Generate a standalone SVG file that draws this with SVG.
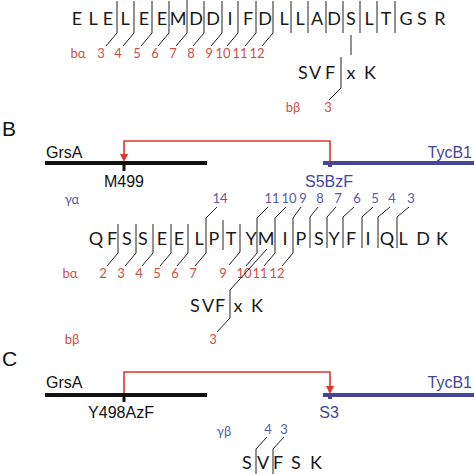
<svg xmlns="http://www.w3.org/2000/svg" width="474" height="474" viewBox="0 0 474 474">
<style>
.seq{font-family:Lato,"Open Sans","Liberation Sans",sans-serif;font-size:18px;fill:#1a1a1a;text-anchor:middle}
.rn{font-family:Lato,"Open Sans","Liberation Sans",sans-serif;font-size:13px;fill:#c9504a;text-anchor:middle}
.bn{font-family:Lato,"Open Sans","Liberation Sans",sans-serif;font-size:13px;fill:#5a5aa0;text-anchor:middle}
.lab{font-family:"Liberation Sans",Arial,sans-serif;font-size:16px;fill:#111}
.blab{font-family:"Liberation Sans",Arial,sans-serif;font-size:16px;fill:#45459a}
.sec{font-family:"Liberation Sans",Arial,sans-serif;font-size:21px;fill:#111}
.ln{fill:none;stroke:#222;stroke-width:1}
.red{fill:none;stroke:#e0342c;stroke-width:1.6}
</style>
<defs>
<marker id="ah" markerWidth="8" markerHeight="8" refX="4" refY="4" orient="auto" markerUnits="userSpaceOnUse">
<path d="M0,0 L8,4 L0,8 z" fill="#e0342c"/>
</marker>
</defs>

<g id="sectionA">
<g id="seqA1">
<text class="seq" y="25"><tspan x="77">E</tspan><tspan x="93">L</tspan><tspan x="108">E</tspan><tspan x="125">L</tspan><tspan x="144">E</tspan><tspan x="162">E</tspan><tspan x="178">M</tspan><tspan x="196">D</tspan><tspan x="213">D</tspan><tspan x="230">I</tspan><tspan x="248">F</tspan><tspan x="265">D</tspan><tspan x="284">L</tspan><tspan x="300">L</tspan><tspan x="317">A</tspan><tspan x="334">D</tspan><tspan x="351">S</tspan><tspan x="369">L</tspan><tspan x="386">T</tspan><tspan x="406">G</tspan><tspan x="422">S</tspan><tspan x="440">R</tspan></text>
</g>
<g id="numsA" class="rn">
<text x="78" y="58">bα</text>
<text x="101" y="58">3</text><text x="118" y="58">4</text><text x="137" y="58">5</text><text x="155" y="58">6</text><text x="173" y="58">7</text><text x="191" y="58">8</text><text x="209" y="58">9</text><text x="223" y="58">10</text><text x="240" y="58">11</text><text x="257" y="58">12</text>
</g>
<g id="seqA2">
<text class="seq" y="79"><tspan x="303">S</tspan><tspan x="315">V</tspan><tspan x="330">F</tspan><tspan x="351">x</tspan><tspan x="370">K</tspan></text>
</g>
<g id="numsA2" class="rn">
<text x="293" y="112">bβ</text><text x="328" y="112">3</text>
</g>
</g>

<g id="connectorsA" class="ln">
<path d="M117,1V33L106,46M134,1V33L123,46M152,1V33L141,46M169,1V33L158,46M187,0V33L176,46M204,1V33L193,46M222,1V33L211,46M238,1V33L227,46M256,1V33L245,46M273,1V33L262,46"/>
<path d="M291,1V33M308,1V33M326,1V33M343,1V33M360,1V33M377,1V33M395,1V33"/>
<path d="M351,35V55"/>
<path d="M341,57V88L329,100"/>
</g>

<g id="sectionB">
<text class="sec" x="2" y="136">B</text>
<g id="grsaB"><text class="lab" x="46" y="158">GrsA</text><path d="M45,163H207" stroke="#111" stroke-width="4"/><rect x="122.5" y="163" width="3" height="8" fill="#111"/><text class="lab" x="124" y="187" text-anchor="middle">M499</text></g>
<g id="tycbB"><text class="blab" x="472" y="158" text-anchor="end">TycB1</text><path d="M323,163H474" stroke="#45459a" stroke-width="4"/><rect x="328" y="161" width="4" height="6" fill="#45459a"/><text class="blab" x="329" y="187" text-anchor="middle">S5BzF</text></g>
<g id="numsBtop" class="bn">
<text x="72" y="204">γα</text>
<text x="220" y="203">14</text><text x="272" y="203">11</text><text x="289" y="203">10</text><text x="303" y="203">9</text><text x="320" y="203">8</text><text x="338" y="203">7</text><text x="357" y="203">6</text><text x="375" y="203">5</text><text x="392" y="203">4</text><text x="411" y="203">3</text>
</g>
<g id="seqB1">
<text class="seq" y="245"><tspan x="96">Q</tspan><tspan x="112">F</tspan><tspan x="127">S</tspan><tspan x="143">S</tspan><tspan x="162">E</tspan><tspan x="179">E</tspan><tspan x="199">L</tspan><tspan x="214">P</tspan><tspan x="231">T</tspan><tspan x="251">Y</tspan><tspan x="266">M</tspan><tspan x="285">I</tspan><tspan x="301">P</tspan><tspan x="319">S</tspan><tspan x="334">Y</tspan><tspan x="351">F</tspan><tspan x="368">I</tspan><tspan x="387">Q</tspan><tspan x="403">L</tspan><tspan x="423">D</tspan><tspan x="442">K</tspan></text>
</g>
<g id="numsB" class="rn">
<text x="70" y="278">bα</text>
<text x="103" y="278">2</text><text x="121" y="278">3</text><text x="139" y="278">4</text><text x="157" y="278">5</text><text x="175" y="278">6</text><text x="193" y="278">7</text><text x="223" y="278">9</text><text x="244" y="278">10</text><text x="260" y="278">11</text><text x="277" y="278">12</text>
</g>
<g id="seqB2">
<text class="seq" y="312"><tspan x="195">S</tspan><tspan x="208">V</tspan><tspan x="220">F</tspan><tspan x="238">x</tspan><tspan x="257">K</tspan></text>
</g>
<g id="numsB2" class="rn">
<text x="72" y="344">bβ</text><text x="213" y="344">3</text>
</g>
</g>

<g id="connectorsB">
<path class="red" d="M330,161V141H124V158" marker-end="url(#ah)"/>
<g class="ln">
<path d="M118,224V253L107,266M136,224V253L125,266M153,224V253L142,266M171,224V253L160,266M188,224V253L177,266"/>
<path d="M217,207L206,218V253L195,266"/>
<path d="M223,220V250"/>
<path d="M240,224V252L229,265"/>
<path d="M268,207L257,218V253L246,266"/>
<path d="M286,207L275,218V253L264,266"/>
<path d="M301,207L293,218V253L282,266"/>
<path d="M318,207L310,217V248M336,207L327,217V248M354,207L343,217V248M373,207L362,217V248M390,207L378,217V248M409,207L397,217V248"/>
<path d="M267,249L230,290V318L217,332"/>
</g>
</g>

<g id="sectionC">
<text class="sec" x="2" y="366">C</text>
<g id="grsaC"><text class="lab" x="46" y="388">GrsA</text><path d="M45,395H207" stroke="#111" stroke-width="4"/><rect x="122.5" y="395" width="3" height="7" fill="#111"/><text class="lab" x="121" y="418" text-anchor="middle">Y498AzF</text></g>
<g id="tycbC"><text class="blab" x="472" y="388" text-anchor="end">TycB1</text><path d="M323,395H474" stroke="#45459a" stroke-width="4"/><rect x="328" y="393" width="4" height="6" fill="#45459a"/><text class="blab" x="329" y="418" text-anchor="middle">S3</text></g>
<g id="numsC" class="bn">
<text x="224" y="436">γβ</text><text x="268" y="434">4</text><text x="284" y="434">3</text>
</g>
<g id="seqC">
<text class="seq" y="469"><tspan x="247">S</tspan><tspan x="263">V</tspan><tspan x="278">F</tspan><tspan x="296">S</tspan><tspan x="316">K</tspan></text>
</g>
</g>

<g id="connectorsC">
<path class="red" d="M124,393V372H330V390" marker-end="url(#ah)"/>
<g class="ln">
<path d="M267,437L256,449V474M284,437L273,449V474"/>
</g>
</g>
</svg>
